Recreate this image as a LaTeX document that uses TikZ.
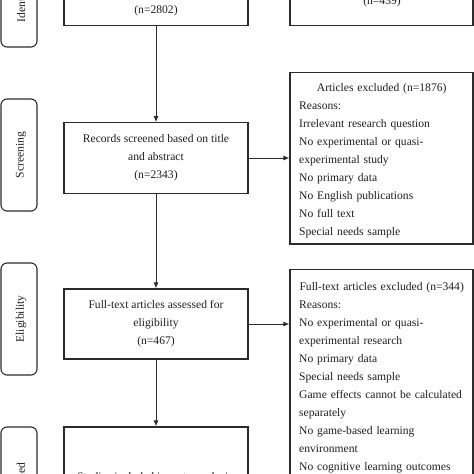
\documentclass[tikz,border=0pt]{standalone}
\usepackage{fontspec}
\setmainfont{Liberation Serif}
\usetikzlibrary{arrows.meta}
\definecolor{linec}{HTML}{2B2B2B}
\definecolor{txtc}{HTML}{1E1E1E}
\tikzset{
  mainbox/.style={draw=linec, line width=1.1pt, minimum width=184pt, inner sep=0pt, align=center, text=txtc, font=\fontsize{11.6}{18}\selectfont},
  rbox/.style={draw=linec, line width=1.1pt, minimum width=183pt, inner sep=0pt},
  phase/.style={draw=linec, line width=1.1pt, rounded corners=6pt, minimum width=36pt, minimum height=112pt, inner sep=0pt},
  phasetxt/.style={rotate=90, inner sep=0pt, text=txtc, font=\fontsize{11.6}{14}\selectfont},
  txt/.style={inner sep=0pt, text=txtc, font=\fontsize{11.6}{18}\selectfont},
  listtxt/.style={inner sep=0pt, text width=165pt, align=left, text=txtc, font=\fontsize{11.6}{18}\selectfont},
  flow/.style={draw=linec, line width=1pt, -{Latex[length=6pt,width=5pt]}}
}
\begin{document}
\begin{tikzpicture}[x=1pt,y=-1pt]
\useasboundingbox (0,0) rectangle (474,474);
\clip (0,0) rectangle (474,474);
% phase boxes
\node[phase] (pid) at (19,-9) {};
\node[phasetxt] (pidt) at (21,-9) {Identification};
\node[phase] (psc) at (19,155) {};
\node[phasetxt] (psct) at (21,155) {Screening};
\node[phase] (pel) at (19,319) {};
\node[phasetxt] (pelt) at (21,319) {Eligibility};
\node[phase] (pin) at (19,483) {};
\node[phasetxt] (pint) at (21,483) {Included};
% main boxes
\node[mainbox, minimum height=70pt] (ident) at (156,-9.3) {};
\node[txt] (identn) at (156,11) {(n=2802)};
\node[mainbox, minimum height=70.6pt] (screen) at (156,158) {Records screened based on title\\and abstract\\(n=2343)};
\node[mainbox, minimum height=70pt] (elig) at (156,324) {Full-text articles assessed for\\eligibility\\(n=467)};
\node[mainbox, minimum height=80pt] (incl) at (156,467) {};
\node[txt, anchor=base] (inclt) at (155,480) {Studies included in meta-analysis};
% right boxes
\node[rbox, minimum height=91.4pt] (dup) at (381.5,-20) {};
\node[txt] (dupn) at (382,2) {(n=439)};
\node[rbox, minimum height=171.3pt] (exa) at (381.5,158.35) {};
\node[listtxt, anchor=north west] (exat) at (299,78.4) {\strut\makebox[165pt][c]{Articles excluded (n=1876)}\\Reasons:\\Irrelevant research question\\No experimental or quasi-\\experimental study\\No primary data\\No English publications\\No full text\\Special needs sample};
\node[rbox, minimum height=225.7pt] (exb) at (381.5,382.15) {};
\node[listtxt, anchor=north west] (exbt) at (299,277.6) {\strut\makebox[165pt][c]{Full-text articles excluded (n=344)}\\Reasons:\\No experimental or quasi-\\experimental research\\No primary data\\Special needs sample\\Game effects cannot be calculated\\separately\\No game-based learning\\environment\\No cognitive learning outcomes};
% connectors
\draw[flow] (ident.south) -- (screen.north);
\draw[flow] (screen.east) -- (screen.east -| exa.west);
\draw[flow] (screen.south) -- (elig.north);
\draw[flow] (elig.east) -- (elig.east -| exb.west);
\draw[flow] (elig.south) -- (incl.north);
\end{tikzpicture}
\end{document}
